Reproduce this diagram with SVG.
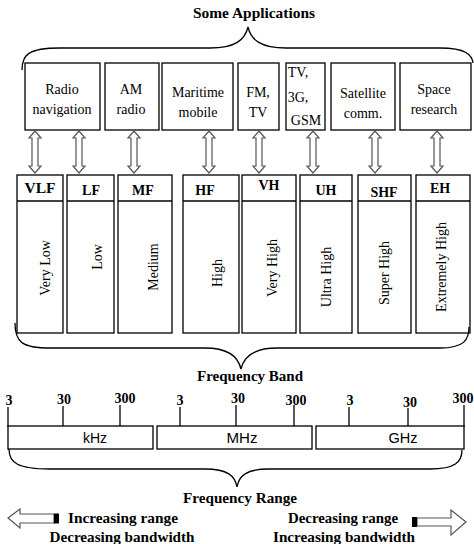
<svg xmlns="http://www.w3.org/2000/svg" width="474" height="544" viewBox="0 0 474 544">
<defs>
<style>
.box{fill:#fff;stroke:#000;stroke-width:1.3}
.t{font-family:"Liberation Serif","Times New Roman",serif;font-size:14px;fill:#000;text-anchor:middle}
.b{font-weight:bold}
.s{font-family:"Liberation Sans",Arial,sans-serif;font-size:14px;text-anchor:middle;fill:#000}
.br{fill:none;stroke:#000;stroke-width:1.3}
.dar{fill:#fff;stroke:#555;stroke-width:1.2}
.tick{stroke:#000;stroke-width:1.3}
</style>
<path id="darr" d="M0,-21 L6,-14 L3,-14 L3,14 L6,14 L0,21 L-6,14 L-3,14 L-3,-14 L-6,-14 Z"/>
</defs>
<rect width="474" height="544" fill="#fff"/>

<text class="t b" x="254" y="18" textLength="122" lengthAdjust="spacingAndGlyphs">Some Applications</text>
<path class="br" d="M22,70 C22,55 28,48 60,48 L210,48 C235,48 245,40 248,27 C251,40 261,48 286,48 L440,48 C466,48 472,55 473,63"/>

<g id="app-radio-nav"><rect class="box" x="25" y="63" width="75" height="67"/><text class="t" x="62" y="94">Radio</text><text class="t" x="62" y="114">navigation</text></g>
<g id="app-am"><rect class="box" x="105" y="63" width="54" height="67"/><text class="t" x="131" y="94">AM</text><text class="t" x="131" y="114">radio</text></g>
<g id="app-maritime"><rect class="box" x="162" y="63" width="71" height="67"/><text class="t" x="198" y="97">Maritime</text><text class="t" x="198" y="117">mobile</text></g>
<g id="app-fm"><rect class="box" x="238" y="63" width="41" height="67"/><text class="t" x="258" y="97">FM,</text><text class="t" x="258" y="117">TV</text></g>
<g id="app-tv"><rect class="box" x="286" y="63" width="39" height="67"/><text class="t" x="298" y="77">TV,</text><text class="t" x="298" y="102">3G,</text><text class="t" x="306" y="125">GSM</text></g>
<g id="app-sat"><rect class="box" x="331" y="63" width="64" height="67"/><text class="t" x="363" y="98">Satellite</text><text class="t" x="363" y="118">comm.</text></g>
<g id="app-space"><rect class="box" x="400" y="63" width="71" height="67"/><text class="t" x="434" y="94">Space</text><text class="t" x="434" y="114">research</text></g>

<g id="connectors">
<use href="#darr" class="dar" x="35" y="152"/>
<use href="#darr" class="dar" x="79" y="152"/>
<use href="#darr" class="dar" x="134" y="152"/>
<use href="#darr" class="dar" x="209" y="152"/>
<use href="#darr" class="dar" x="259" y="152"/>
<use href="#darr" class="dar" x="313" y="152"/>
<use href="#darr" class="dar" x="375" y="152"/>
<use href="#darr" class="dar" x="437" y="152"/>
</g>

<g id="band-vlf"><rect class="box" x="17" y="175" width="46" height="158"/><line class="tick" x1="17" y1="201" x2="63" y2="201"/><text class="t b" x="40" y="193" textLength="31" lengthAdjust="spacingAndGlyphs">VLF</text><text class="t" transform="translate(45,268) rotate(-90)" y="5">Very Low</text></g>
<g id="band-lf"><rect class="box" x="67" y="175" width="47" height="158"/><line class="tick" x1="67" y1="201" x2="114" y2="201"/><text class="t b" x="91" y="195">LF</text><text class="t" transform="translate(97,257) rotate(-90)" y="5">Low</text></g>
<g id="band-mf"><rect class="box" x="118" y="175" width="54" height="158"/><line class="tick" x1="118" y1="201" x2="172" y2="201"/><text class="t b" x="143" y="195">MF</text><text class="t" transform="translate(153,267) rotate(-90)" y="5">Medium</text></g>
<g id="band-hf"><rect class="box" x="183" y="175" width="56" height="158"/><line class="tick" x1="183" y1="201" x2="239" y2="201"/><text class="t b" x="205" y="195">HF</text><text class="t" transform="translate(217,273) rotate(-90)" y="5">High</text></g>
<g id="band-vh"><rect class="box" x="242" y="175" width="54" height="158"/><line class="tick" x1="242" y1="201" x2="296" y2="201"/><text class="t b" x="269" y="190">VH</text><text class="t" transform="translate(272,268) rotate(-90)" y="5">Very High</text></g>
<g id="band-uh"><rect class="box" x="300" y="175" width="52" height="158"/><line class="tick" x1="300" y1="201" x2="352" y2="201"/><text class="t b" x="326" y="195">UH</text><text class="t" transform="translate(326,277) rotate(-90)" y="5">Ultra High</text></g>
<g id="band-shf"><rect class="box" x="358" y="175" width="53" height="158"/><line class="tick" x1="358" y1="201" x2="411" y2="201"/><text class="t b" x="384" y="197">SHF</text><text class="t" transform="translate(384,273) rotate(-90)" y="5">Super High</text></g>
<g id="band-eh"><rect class="box" x="416" y="175" width="54" height="158"/><line class="tick" x1="416" y1="201" x2="470" y2="201"/><text class="t b" x="440" y="193">EH</text><text class="t" transform="translate(441,267) rotate(-90)" y="5">Extremely High</text></g>

<path class="br" d="M15,323 C15,342 22,348 50,348 L205,348 C228,348 238,356 241,369 C244,356 254,348 277,348 L440,348 C464,348 469,340 469,327"/>
<text class="t b" x="250" y="381" textLength="106" lengthAdjust="spacingAndGlyphs">Frequency Band</text>

<g id="scale">
<text class="t b" x="9" y="405">3</text>
<text class="t b" x="64" y="404">30</text>
<text class="t b" x="125" y="403">300</text>
<text class="t b" x="180" y="405">3</text>
<text class="t b" x="238" y="403">30</text>
<text class="t b" x="296" y="405">300</text>
<text class="t b" x="350" y="405">3</text>
<text class="t b" x="410" y="407">30</text>
<text class="t b" x="463" y="403">300</text>
<line class="tick" x1="8" y1="407" x2="8" y2="427"/>
<line class="tick" x1="63" y1="406" x2="63" y2="427"/>
<line class="tick" x1="120" y1="405" x2="120" y2="427"/>
<line class="tick" x1="180" y1="407" x2="180" y2="427"/>
<line class="tick" x1="236" y1="405" x2="236" y2="427"/>
<line class="tick" x1="294" y1="405" x2="294" y2="427"/>
<line class="tick" x1="349" y1="407" x2="349" y2="427"/>
<line class="tick" x1="408" y1="408" x2="408" y2="427"/>
<line class="tick" x1="464" y1="405" x2="464" y2="427"/>
</g>
<g id="range-khz"><rect class="box" x="8" y="426" width="145" height="23"/><text class="s" x="95" y="443">kHz</text></g>
<g id="range-mhz"><rect class="box" x="157" y="426" width="155" height="23"/><text class="s" x="242" y="443" textLength="31" lengthAdjust="spacingAndGlyphs">MHz</text></g>
<g id="range-ghz"><rect class="box" x="316" y="426" width="148" height="23"/><text class="s" x="403" y="443" textLength="29" lengthAdjust="spacingAndGlyphs">GHz</text></g>

<path class="br" d="M9,449 C9,463 18,469 50,469 L205,469 C228,469 235,476 237,487 C239,476 246,469 269,469 L430,469 C455,469 462,462 462,450"/>
<text class="t b" x="240" y="503" textLength="114" lengthAdjust="spacingAndGlyphs">Frequency Range</text>

<g id="arrow-left">
<path d="M8,518 L20,509 L20,514 L54,514 L54,523 L20,523 L20,528 Z" fill="#fff" stroke="#555" stroke-width="1.2"/>
<rect x="54" y="513.5" width="5" height="10" fill="#000"/>
</g>
<text class="t b" x="123" y="523" textLength="110" lengthAdjust="spacingAndGlyphs">Increasing range</text>
<text class="t b" x="122" y="542" textLength="145" lengthAdjust="spacingAndGlyphs">Decreasing bandwidth</text>

<g id="arrow-right">
<path d="M466,522 L451,510 L451,518 L417,518 L417,526 L451,526 L451,535 Z" fill="#fff" stroke="#555" stroke-width="1.2"/>
<rect x="412" y="517" width="5" height="10" fill="#000"/>
</g>
<text class="t b" x="343" y="523" textLength="110" lengthAdjust="spacingAndGlyphs">Decreasing range</text>
<text class="t b" x="344" y="542" textLength="142" lengthAdjust="spacingAndGlyphs">Increasing bandwidth</text>
</svg>
